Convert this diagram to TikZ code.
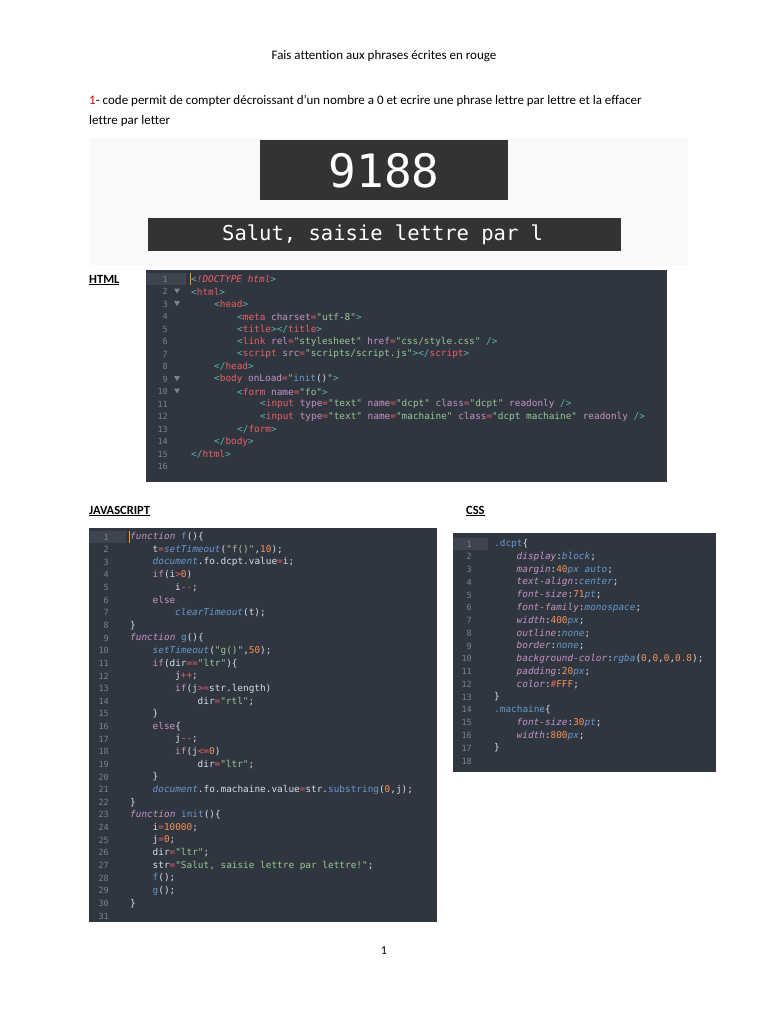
\documentclass[tikz,border=0pt]{standalone}
\usepackage{fontspec}
\setmainfont{Carlito}[Ligatures={NoCommon}]
\setmonofont{DejaVu Sans Mono}
\definecolor{cbg}{HTML}{30363F}
\definecolor{chl}{HTML}{3E4550}
\definecolor{cln}{HTML}{7A828E}
\definecolor{cpu}{HTML}{5FB3B3}
\definecolor{ctg}{HTML}{EC5F67}
\definecolor{cat}{HTML}{C594C5}
\definecolor{cst}{HTML}{99C794}
\definecolor{cnu}{HTML}{F99157}
\definecolor{cfn}{HTML}{6699CC}
\definecolor{cwt}{HTML}{D8DEE9}
\definecolor{band}{HTML}{F9F9F9}
\definecolor{red1}{HTML}{E00000}
\newcommand{\Pu}[1]{\textcolor{cpu}{#1}}
\newcommand{\Tg}[1]{\textcolor{ctg}{#1}}
\newcommand{\At}[1]{\textcolor{cat}{#1}}
\newcommand{\St}[1]{\textcolor{cst}{#1}}
\newcommand{\Nu}[1]{\textcolor{cnu}{#1}}
\newcommand{\Fn}[1]{\textcolor{cfn}{\itshape #1}}
\newcommand{\Kw}[1]{\textcolor{cat}{\itshape #1}}
\tikzset{
  code/.style={anchor=west,inner sep=0pt,text=cwt,font=\ttfamily\fontsize{9.4}{10}\selectfont},
  lnum/.style={anchor=east,inner sep=0pt,text=cln,font=\ttfamily\fontsize{8.5}{10}\selectfont},
  para/.style={anchor=west,inner sep=0pt,font=\fontsize{13}{15}\selectfont},
  lbl/.style={anchor=west,inner sep=0pt,font=\bfseries\fontsize{12.5}{15}\selectfont},
}
\begin{document}
\begin{tikzpicture}[x=1pt,y=-1pt]
\useasboundingbox (0,0) rectangle (768,1024);
\fill[white] (0,0) rectangle (768,1024);
\node[inner sep=0,font=\fontsize{13}{15}\selectfont] (title) at (384,56) {Fais attention aux phrases écrites en rouge};
\node[para] (p1) at (89,101) {\textcolor{red1}{1}- code permit de compter décroissant d'un nombre a 0 et ecrire une phrase lettre par lettre et la effacer};
\node[para] (p2) at (89,121) {lettre par letter};
% demo band
\fill[band] (90,138) rectangle (688,265);
\fill[black!80] (260,140) rectangle (508,200);
\node[inner sep=0,text=white,font=\ttfamily\fontsize{46}{46}\selectfont] (num) at (384,171) {9188};
\fill[black!80] (148,218) rectangle (621,251);
\node[inner sep=0,text=white,anchor=west,font=\ttfamily\fontsize{20.5}{22}\selectfont] (sal) at (222,235) {Salut, saisie lettre par l};
% labels
\node[lbl] (lh) at (89,280) {\underline{HTML}};
\node[lbl] (lj) at (89,511) {\underline{JAVASCRIPT}};
\node[lbl] (lc) at (466,511) {\underline{CSS}};
\node[inner sep=0,font=\fontsize{12}{14}\selectfont] (pg) at (384,951) {1};
% HTML box
\fill[cbg] (146,270) rectangle (667,482);
\fill[chl] (146,273) rectangle (186,285);
\draw[orange!80!yellow,line width=0.8pt] (190,273) -- (190,285);
\foreach \n [count=\i] in {1,...,16}{
  \node[lnum] at (168,{279+12.5*(\i-1)}) {\n};}
\foreach \i in {2,3,9,10}{
  \fill[cln] (174,{276+12.5*(\i-1)}) -- (180,{276+12.5*(\i-1)}) -- (177,{281+12.5*(\i-1)}) -- cycle;}
\node[code] (h1) at (191,279) {\Pu{<}\Tg{\itshape !DOCTYPE html}\Pu{>}};
\node[code] (h2) at (191,291.5) {\Pu{<}\Tg{html}\Pu{>}};
\node[code] (h3) at (214,304) {\Pu{<}\Tg{head}\Pu{>}};
\node[code] (h4) at (237,316.5) {\Pu{<}\Tg{meta} \At{charset}\Tg{=}\St{"utf-8"}\Pu{>}};
\node[code] (h5) at (237,329) {\Pu{<}\Tg{title}\Pu{></}\Tg{title}\Pu{>}};
\node[code] (h6) at (237,341.5) {\Pu{<}\Tg{link} \At{rel}\Tg{=}\St{"stylesheet"} \At{href}\Tg{=}\St{"css/style.css"} \Pu{/>}};
\node[code] (h7) at (237,354) {\Pu{<}\Tg{script} \At{src}\Tg{=}\St{"scripts/script.js"}\Pu{></}\Tg{script}\Pu{>}};
\node[code] (h8) at (214,366.5) {\Pu{</}\Tg{head}\Pu{>}};
\node[code] (h9) at (214,379) {\Pu{<}\Tg{body} \At{onLoad}\Tg{=}\St{"}\textcolor{cfn}{init}\textcolor{cwt}{()}\St{"}\Pu{>}};
\node[code] (h10) at (237,391.5) {\Pu{<}\Tg{form} \At{name}\Tg{=}\St{"fo"}\Pu{>}};
\node[code] (h11) at (260,404) {\Pu{<}\Tg{input} \At{type}\Tg{=}\St{"text"} \At{name}\Tg{=}\St{"dcpt"} \At{class}\Tg{=}\St{"dcpt"} \At{readonly} \Pu{/>}};
\node[code] (h12) at (260,416.5) {\Pu{<}\Tg{input} \At{type}\Tg{=}\St{"text"} \At{name}\Tg{=}\St{"machaine"} \At{class}\Tg{=}\St{"dcpt machaine"} \At{readonly} \Pu{/>}};
\node[code] (h13) at (237,429) {\Pu{</}\Tg{form}\Pu{>}};
\node[code] (h14) at (214,441.5) {\Pu{</}\Tg{body}\Pu{>}};
\node[code] (h15) at (191,454) {\Pu{</}\Tg{html}\Pu{>}};
% JS box
\fill[cbg] (89,528) rectangle (437,922);
\fill[chl] (89,531) rectangle (126,543);
\draw[orange!80!yellow,line width=0.8pt] (129,531) -- (129,543);
\foreach \n [count=\i] in {1,...,31}{
  \node[lnum] at (109,{537+12.63*(\i-1)}) {\n};}
\def\ja{130}\def\jb{152.5}\def\jc{175}\def\jd{197.5}
\newcommand{\jl}[3]{\node[code] (j#1) at (#2,{537+12.63*(#1-1)}) {#3};}
\jl{1}{\ja}{\Kw{function} \textcolor{cfn}{f}()\{}
\jl{2}{\jb}{t\Tg{=}\Fn{setTimeout}(\St{"f()"},\Nu{10});}
\jl{3}{\jb}{\Fn{document}.fo.dcpt.value\Tg{=}i;}
\jl{4}{\jb}{\At{if}(i\Tg{>}\Nu{0})}
\jl{5}{\jc}{i\Tg{-{}-};}
\jl{6}{\jb}{\At{else}}
\jl{7}{\jc}{\Fn{clearTimeout}(t);}
\jl{8}{\ja}{\}}
\jl{9}{\ja}{\Kw{function} \textcolor{cfn}{g}()\{}
\jl{10}{\jb}{\Fn{setTimeout}(\St{"g()"},\Nu{50});}
\jl{11}{\jb}{\At{if}(dir\Tg{==}\St{"ltr"})\{}
\jl{12}{\jc}{j\Tg{++};}
\jl{13}{\jc}{\At{if}(j\Tg{>=}str.length)}
\jl{14}{\jd}{dir\Tg{=}\St{"rtl"};}
\jl{15}{\jb}{\}}
\jl{16}{\jb}{\At{else}\{}
\jl{17}{\jc}{j\Tg{-{}-};}
\jl{18}{\jc}{\At{if}(j\Tg{<=}\Nu{0})}
\jl{19}{\jd}{dir\Tg{=}\St{"ltr"};}
\jl{20}{\jb}{\}}
\jl{21}{\jb}{\Fn{document}.fo.machaine.value\Tg{=}str.\textcolor{cfn}{substring}(\Nu{0},j);}
\jl{22}{\ja}{\}}
\jl{23}{\ja}{\Kw{function} \textcolor{cfn}{init}()\{}
\jl{24}{\jb}{i\Tg{=}\Nu{10000};}
\jl{25}{\jb}{j\Tg{=}\Nu{0};}
\jl{26}{\jb}{dir\Tg{=}\St{"ltr"};}
\jl{27}{\jb}{str\Tg{=}\St{"Salut, saisie lettre par lettre!"};}
\jl{28}{\jb}{\textcolor{cfn}{f}();}
\jl{29}{\jb}{\textcolor{cfn}{g}();}
\jl{30}{\ja}{\}}
% CSS box
\fill[cbg] (453,533) rectangle (716,772);
\fill[chl] (453,538) rectangle (488,550);
\foreach \n [count=\i] in {1,...,18}{
  \node[lnum] at (472,{544+12.76*(\i-1)}) {\n};}
\def\ca{494}\def\cb{516.5}
\newcommand{\cl}[3]{\node[code] (c#1) at (#2,{544+12.76*(#1-1)}) {#3};}
\cl{1}{\ca}{\textcolor{cfn}{.dcpt}\{}
\cl{2}{\cb}{\Kw{display}:\Fn{block};}
\cl{3}{\cb}{\Kw{margin}:\Nu{40}\Fn{px auto};}
\cl{4}{\cb}{\Kw{text-align}:\Fn{center};}
\cl{5}{\cb}{\Kw{font-size}:\Nu{71}\Fn{pt};}
\cl{6}{\cb}{\Kw{font-family}:\Fn{monospace};}
\cl{7}{\cb}{\Kw{width}:\Nu{400}\Fn{px};}
\cl{8}{\cb}{\Kw{outline}:\Fn{none};}
\cl{9}{\cb}{\Kw{border}:\Fn{none};}
\cl{10}{\cb}{\Kw{background-color}:\Fn{rgba}(\Nu{0},\Nu{0},\Nu{0},\Nu{0.8});}
\cl{11}{\cb}{\Kw{padding}:\Nu{20}\Fn{px};}
\cl{12}{\cb}{\Kw{color}:\Tg{\#}\Nu{FFF};}
\cl{13}{\ca}{\}}
\cl{14}{\ca}{\textcolor{cfn}{.machaine}\{}
\cl{15}{\cb}{\Kw{font-size}:\Nu{30}\Fn{pt};}
\cl{16}{\cb}{\Kw{width}:\Nu{800}\Fn{px};}
\cl{17}{\ca}{\}}
\end{tikzpicture}
\end{document}
